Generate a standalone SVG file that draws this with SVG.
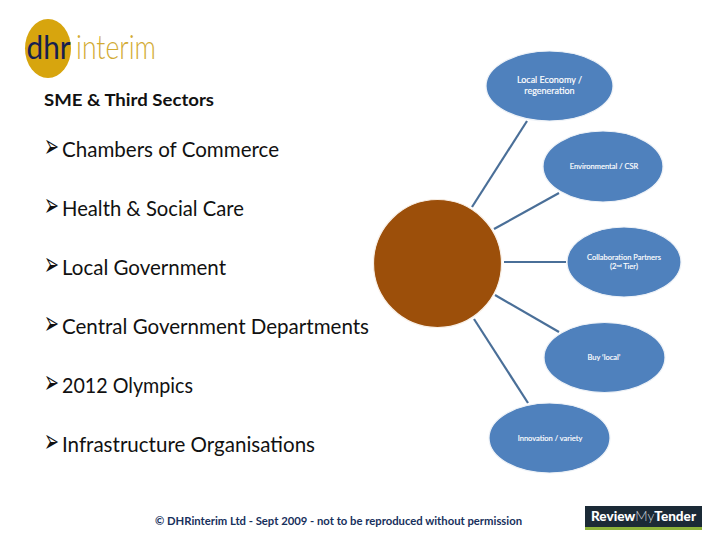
<svg xmlns="http://www.w3.org/2000/svg" width="728" height="546" viewBox="0 0 728 546">
<style>
text{font-family:"Lato","Open Sans","Liberation Sans",sans-serif}
.item{font-size:21px;fill:#111}
.bul{font-family:"DejaVu Sans",sans-serif;font-size:17px;fill:#111}
.n{fill:#4f81bd;stroke:#eef2f7;stroke-width:1.2}
.t{fill:#fff;stroke:#fff;stroke-width:.15;text-anchor:middle}
.c line{stroke:#4a6f98;stroke-width:2.2;fill:none}
</style>
<rect width="728" height="546" fill="#fff"/>
<g id="logo">
<ellipse cx="48" cy="48.500" rx="23" ry="29.500" fill="#d7a50e"/>
<text x="26.500" y="59" font-size="33" font-weight="400" fill="#16204f" textLength="44" lengthAdjust="spacingAndGlyphs">dhr</text>
<text x="76" y="59" font-size="33" font-weight="300" fill="#d2ab33" textLength="80" lengthAdjust="spacingAndGlyphs">interim</text>
</g>
<text id="title" x="44" y="106" font-size="17" font-weight="700" fill="#111" textLength="170" lengthAdjust="spacingAndGlyphs">SME &amp; Third Sectors</text>
<g id="list">
<text class="bul" transform="translate(44 157) scale(1.05 1.9)">➢</text><text class="item" x="62" y="157" textLength="217" lengthAdjust="spacingAndGlyphs">Chambers of Commerce</text>
<text class="bul" transform="translate(44 216) scale(1.05 1.9)">➢</text><text class="item" x="62" y="216" textLength="182" lengthAdjust="spacingAndGlyphs">Health &amp; Social Care</text>
<text class="bul" transform="translate(44 275) scale(1.05 1.9)">➢</text><text class="item" x="62" y="275" textLength="164" lengthAdjust="spacingAndGlyphs">Local Government</text>
<text class="bul" transform="translate(44 334) scale(1.05 1.9)">➢</text><text class="item" x="62" y="334" textLength="307" lengthAdjust="spacingAndGlyphs">Central Government Departments</text>
<text class="bul" transform="translate(44 393) scale(1.05 1.9)">➢</text><text class="item" x="62" y="393" textLength="131" lengthAdjust="spacingAndGlyphs">2012 Olympics</text>
<text class="bul" transform="translate(44 452) scale(1.05 1.9)">➢</text><text class="item" x="62" y="452" textLength="253" lengthAdjust="spacingAndGlyphs">Infrastructure Organisations</text>
</g>
<g id="connectors" class="c">
<line x1="472" y1="207" x2="527" y2="121"/>
<line x1="494" y1="229" x2="559" y2="193"/>
<line x1="504" y1="262" x2="566" y2="262"/>
<line x1="495" y1="295" x2="559" y2="332"/>
<line x1="474" y1="319" x2="528" y2="403"/>
</g>
<g id="hub"><circle cx="437.500" cy="263.500" r="64" fill="#9c4f0a" stroke="#f8efe6" stroke-width="1.200"/></g>
<g id="n1"><ellipse class="n" cx="549.500" cy="86" rx="63.500" ry="35"/>
<text class="t" font-size="9" x="549.500" y="83">Local Economy /</text><text class="t" font-size="9" x="549.500" y="94">regeneration</text></g>
<g id="n2"><ellipse class="n" cx="603" cy="166.500" rx="60" ry="35.500"/>
<text class="t" font-size="7.500" x="604" y="169">Environmental / CSR</text></g>
<g id="n3"><ellipse class="n" cx="624" cy="262" rx="57" ry="35"/>
<text class="t" font-size="7.500" x="624" y="260">Collaboration Partners</text><text class="t" font-size="7.500" x="624" y="269">(2<tspan font-size="4.500" dy="-2.500">nd</tspan><tspan dy="2.500"> Tier)</tspan></text></g>
<g id="n4"><ellipse class="n" cx="604.500" cy="357.500" rx="60.500" ry="35"/>
<text class="t" font-size="7.500" x="604" y="360">Buy ‘local’</text></g>
<g id="n5"><ellipse class="n" cx="549.500" cy="438" rx="60.500" ry="35"/>
<text class="t" font-size="7.500" x="550" y="441">Innovation / variety</text></g>
<text id="footer" x="155" y="525" font-size="11" font-weight="700" fill="#17305c" textLength="367" lengthAdjust="spacingAndGlyphs">© DHRinterim Ltd - Sept 2009 - not to be reproduced without permission</text>
<g id="rmt">
<rect x="585" y="506" width="117" height="21" fill="#1b2a36"/>
<rect x="585" y="527" width="117" height="3" fill="#8db33a"/>
<text x="591" y="521" font-size="13" fill="#fff" font-weight="900" textLength="105" lengthAdjust="spacingAndGlyphs">Review<tspan font-weight="300" fill="#ccd2d6">My</tspan>Tender</text>
</g>
</svg>
